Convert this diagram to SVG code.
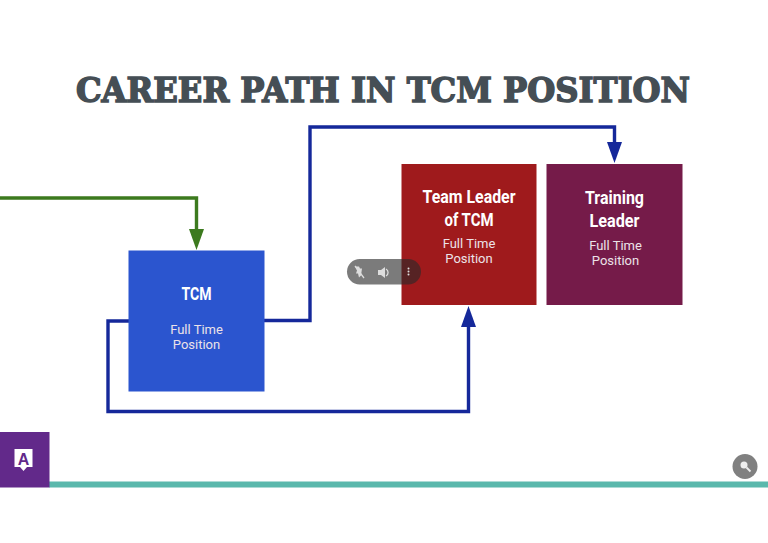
<svg xmlns="http://www.w3.org/2000/svg" width="768" height="543" viewBox="0 0 768 543">
<defs>
<style>
.h{font-family:Roboto,"Liberation Sans",sans-serif;font-weight:700;fill:#fff;text-anchor:middle;font-size:18.500px}
.s{font-family:Roboto,"Liberation Sans",sans-serif;fill:#ece2e8;text-anchor:middle;font-size:13px}
.c{fill:none;stroke-width:3.400}
</style>
</defs>
<rect width="768" height="543" fill="#fff"/>
<text x="383" y="101.500" text-anchor="middle" font-family="'DejaVu Serif','Liberation Serif',serif" font-weight="700" font-size="33" fill="#454e55" stroke="#454e55" stroke-width="1.500" textLength="614" lengthAdjust="spacingAndGlyphs">CAREER PATH IN TCM POSITION</text>
<g id="connectors">
<path class="c" stroke="#3c7a1e" d="M0 198H196.500V232"/>
<path d="M189 229H204L196.500 250Z" fill="#3c7a1e"/>
<path class="c" stroke="#15289a" d="M264 320.500H310V127H614.500V145"/>
<path d="M607 142H622L614.500 163Z" fill="#15289a"/>
<path class="c" stroke="#15289a" d="M129 321H108V411.500H468.500V325"/>
<path d="M461 327H476L468.500 306Z" fill="#15289a"/>
</g>
<g id="tcm">
<rect x="128.500" y="250.500" width="136" height="141" fill="#2b55cf"/>
<text class="h" x="196.500" y="300" textLength="30" lengthAdjust="spacingAndGlyphs">TCM</text>
<text class="s" x="196.500" y="334">Full Time</text>
<text class="s" x="196.500" y="349">Position</text>
</g>
<g id="team-leader">
<rect x="401.500" y="164" width="135" height="141" fill="#9f1a1c"/>
<text class="h" x="469" y="203" textLength="93" lengthAdjust="spacingAndGlyphs">Team Leader</text>
<text class="h" x="469" y="226" textLength="49" lengthAdjust="spacingAndGlyphs">of TCM</text>
<text class="s" x="469" y="248">Full Time</text>
<text class="s" x="469" y="263">Position</text>
</g>
<g id="training-leader">
<rect x="546.500" y="164" width="136" height="141" fill="#751b49"/>
<text class="h" x="614.500" y="204" textLength="59" lengthAdjust="spacingAndGlyphs">Training</text>
<text class="h" x="614.500" y="227" textLength="50" lengthAdjust="spacingAndGlyphs">Leader</text>
<text class="s" x="615.500" y="250">Full Time</text>
<text class="s" x="615.500" y="265">Position</text>
</g>
<g id="media-pill">
<rect x="347" y="259" width="74" height="25.500" rx="12.700" fill="#2a2a2a" fill-opacity="0.62"/>
<path d="M355 266.500h4l1 2h2l-1 7-2 2-1-4h-2l1-3Z" fill="#ddd"/>
<path d="M355 266L364 278" stroke="#ddd" stroke-width="1.300"/>
<path d="M378 270h3l4-3v11l-4-3h-3Z" fill="#ddd"/>
<path d="M386 269a4 4 0 0 1 0 7" fill="none" stroke="#ddd" stroke-width="1.300"/>
<circle cx="408.500" cy="268.500" r="1" fill="#ddd"/>
<circle cx="408.500" cy="271.500" r="1" fill="#ddd"/>
<circle cx="408.500" cy="274.500" r="1" fill="#ddd"/>
</g>
<g id="footer">
<rect x="49" y="481.500" width="719" height="6" fill="#5ab8ac"/>
<rect x="0" y="432" width="49.500" height="55.500" fill="#62298a"/>
<path d="M14.500 449H32.500V467H27L23.500 471L20 467H14.500Z" fill="#fff"/>
<text x="23.500" y="465" text-anchor="middle" font-family="'Liberation Sans',sans-serif" font-weight="700" font-size="16" fill="#62298a">A</text>
</g>
<g id="zoom-button">
<circle cx="745" cy="466.500" r="12.500" fill="#808080"/>
<circle cx="744" cy="465" r="3.500" fill="#eee"/>
<path d="M746.500 467.500L750.500 471.500" stroke="#eee" stroke-width="1.800"/>
</g>
</svg>
